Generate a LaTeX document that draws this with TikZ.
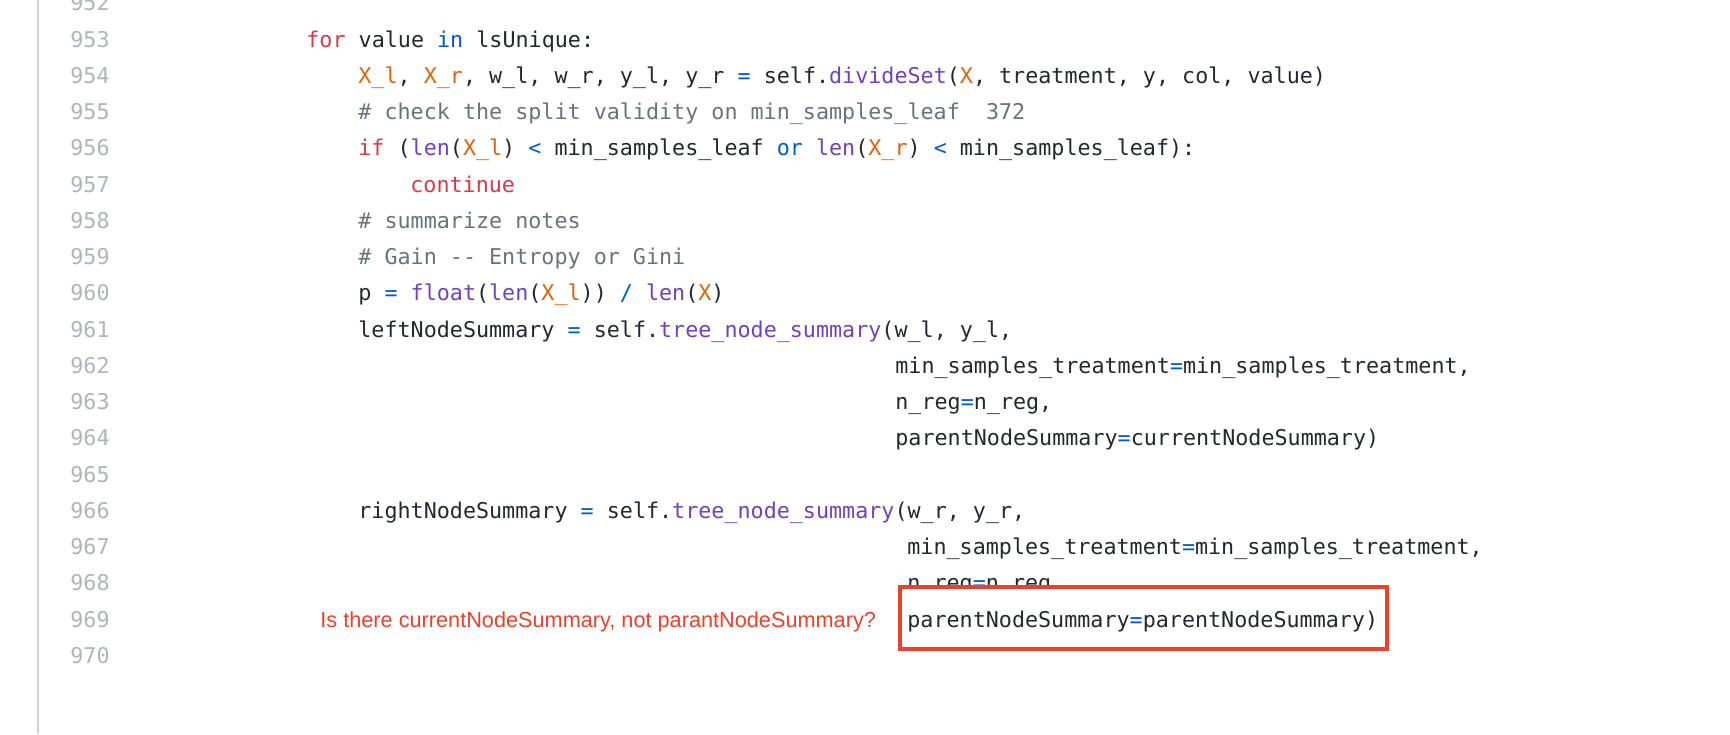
\documentclass[tikz,border=0pt]{standalone}
\usepackage{fontspec}
\setmainfont{Liberation Sans}
\setmonofont{DejaVu Sans Mono}
\definecolor{kw}{HTML}{D73A49}
\definecolor{bl}{HTML}{005CC5}
\definecolor{pu}{HTML}{6F42C1}
\definecolor{og}{HTML}{E36209}
\definecolor{cm}{HTML}{6A737D}
\definecolor{ln}{HTML}{B0B5BA}
\definecolor{tx}{HTML}{24292E}
\definecolor{box}{HTML}{E8412C}
\newcommand\Kw[1]{\textcolor{kw}{#1}}
\newcommand\Bl[1]{\textcolor{bl}{#1}}
\newcommand\Pu[1]{\textcolor{pu}{#1}}
\newcommand\Og[1]{\textcolor{og}{#1}}
\newcommand\Cm[1]{\textcolor{cm}{#1}}
\begin{document}
\begin{tikzpicture}[x=0.5pt,y=-0.5pt,
  code/.style={anchor=base west,inner sep=0,font=\ttfamily\fontsize{10.86pt}{12pt}\selectfont,text=tx},
  num/.style={anchor=base east,inner sep=0,font=\ttfamily\fontsize{10.86pt}{12pt}\selectfont,text=ln}]
\useasboundingbox[fill=white] (0,0) rectangle (1730,734);
\draw[ln!60,line width=1pt] (38,0) -- (38,734);
\foreach \n [evaluate=\n as \yy using {47+(\n-953)*36.25}] in {952,...,970}
  \node[num] (n\n) at (110,\yy) {\n};
\newcommand\Y[1]{47+(#1-953)*36.25}
\node[code] (l953) at (306,{\Y{953}}) {\Kw{for} value \Bl{in} lsUnique:};
\node[code] (l954) at (358,{\Y{954}}) {\Og{X\_l}, \Og{X\_r}, w\_l, w\_r, y\_l, y\_r \Bl{=} self.\Pu{divideSet}(\Og{X}, treatment, y, col, value)};
\node[code] (l955) at (358,{\Y{955}}) {\Cm{\# check the split validity on min\_samples\_leaf\ \ 372}};
\node[code] (l956) at (358,{\Y{956}}) {\Kw{if} (\Pu{len}(\Og{X\_l}) \Bl{<} min\_samples\_leaf \Bl{or} \Pu{len}(\Og{X\_r}) \Bl{<} min\_samples\_leaf):};
\node[code] (l957) at (410,{\Y{957}}) {\Kw{continue}};
\node[code] (l958) at (358,{\Y{958}}) {\Cm{\# summarize notes}};
\node[code] (l959) at (358,{\Y{959}}) {\Cm{\# Gain -{}- Entropy or Gini}};
\node[code] (l960) at (358,{\Y{960}}) {p \Bl{=} \Pu{float}(\Pu{len}(\Og{X\_l})) \Bl{/} \Pu{len}(\Og{X})};
\node[code] (l961) at (358,{\Y{961}}) {leftNodeSummary \Bl{=} self.\Pu{tree\_node\_summary}(w\_l, y\_l,};
\node[code] (l962) at (895,{\Y{962}}) {min\_samples\_treatment\Bl{=}min\_samples\_treatment,};
\node[code] (l963) at (895,{\Y{963}}) {n\_reg\Bl{=}n\_reg,};
\node[code] (l964) at (895,{\Y{964}}) {parentNodeSummary\Bl{=}currentNodeSummary)};
\node[code] (l966) at (358,{\Y{966}}) {rightNodeSummary \Bl{=} self.\Pu{tree\_node\_summary}(w\_r, y\_r,};
\node[code] (l967) at (907,{\Y{967}}) {min\_samples\_treatment\Bl{=}min\_samples\_treatment,};
\node[code] (l968) at (907,{\Y{968}}) {n\_reg\Bl{=}n\_reg,};
\draw[box,line width=2pt,fill=white] (900,587) rectangle (1387,649);
\node[code] (l969) at (907,{\Y{969}}) {parentNodeSummary\Bl{=}parentNodeSummary)};
\node[anchor=base west,inner sep=0,text=box,font=\fontsize{10.85pt}{12pt}\selectfont] (note) at (320,{\Y{969}}) {Is there currentNodeSummary, not parantNodeSummary?};
\end{tikzpicture}
\end{document}
